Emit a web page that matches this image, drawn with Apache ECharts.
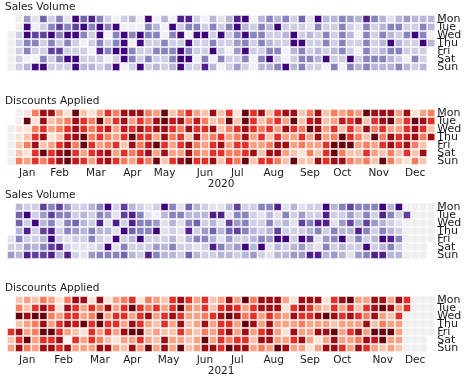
<!DOCTYPE html>
<html>
<head>
<meta charset="utf-8">
<script src="https://cdn.jsdelivr.net/npm/echarts@6/dist/echarts.min.js"></script>
<style>
  html, body { margin: 0; padding: 0; background: #fff; }
  #chart { width: 474px; height: 377px; }
</style>
</head>
<body>
<div id="chart"></div>
<script>
// one string per weekday (Mon..Sun), one char per week column; '.' = no data
const years = ['2020', '2021']
const dayNames = ['Sun', 'Mon', 'Tue', 'Wed', 'Thu', 'Fri', 'Sat']
const titles = ['Sales Volume', 'Discounts Applied', 'Sales Volume', 'Discounts Applied']

const sales2020 = [
  '..416251968520230903088203138903535261933543853134333',
  '..902575795959000530925525259325392221522521523552253',
  '.2977959952905959550590992925955223923252530525325950',
  '.2552525202525909225229225224525322992252522523932293',
  '.252277222085995225559522920492255035232352052355222.',
  '.200525992220295252259905052250592025539229255532052.',
  '.239922293323902923239228302420335935220505353335323.'
]
const discounts2020 = [
  '..148831921364888439246328261968268824824343988838134',
  '..918234864936836489784742392962463927823768268936986',
  '.1146346864673768688648668246864638649836263846336862',
  '.1268127894643696638462834634836263363834964294867848',
  '.248236849634628479636843683663348834336999343686842.',
  '.216968963678364683833843664468288321426942263242628.',
  '.436468976378643649268966826492664292286884342942142.'
]
const sales2021 = [
  '.322757422359273212951632113722558131229357555939....',
  '.6924755232541785103553338815521315242282242528527...',
  '.629351563281828554131562317452252317588147374321....',
  '.382782543533196559121824636753237222352533852532....',
  '1522392122521923922231355314223549929714592523985....',
  '2243578211129152224352212853493913234215232292352....',
  '4387783821455563285332632233234213344883431458833....'
]
const discounts2021 = [
  '.2324314881813461432686362383948883188816893388386...',
  '.4268618636483696463694362676368881686326362689836...',
  '.989943663493663683686334689846364386689868648326....',
  '.234836879696638632638238366398383334333233382433....',
  '6834996321636389923226324368383683183388936839993....',
  '2693668063642133632833239364662883368313833487933....',
  '3843886833388328393839238869883439833138863863232....'
]

const purples = ['#fcfbfd', '#efedf5', '#dadaeb', '#bcbddc', '#9e9ac8', '#807dba', '#6a51a3', '#54278f', '#3f007d']
const reds = ['#fff5f0', '#fee0d2', '#fcbba1', '#fc9272', '#fb6a4a', '#ef3b2c', '#cb181d', '#a50f15', '#67000d']

const toData = (rows, year) => {
  const jan1 = Date.UTC(+year, 0, 1)
  const dow = (new Date(jan1).getUTCDay() + 6) % 7
  const start = jan1 - dow * 86400000
  const out = []
  rows.forEach((row, r) => {
    for (let c = 0; c < row.length; c++) {
      const ch = row[c]
      if (ch === '.') continue
      const d = new Date(start + (c * 7 + r) * 86400000)
      if (d.getUTCFullYear() !== +year) continue
      out.push([d.toISOString().slice(0, 10), +ch])
    }
  })
  return out
}

const panels = [
  { rows: sales2020, year: '2020', top: 15, bottom: false },
  { rows: discounts2020, year: '2020', top: 109, bottom: true },
  { rows: sales2021, year: '2021', top: 203, bottom: false },
  { rows: discounts2021, year: '2021', top: 296, bottom: true }
]
const font = 'DejaVu Sans'
const txt = { fontFamily: font, fontSize: 10.5, color: '#1a1a1a' }

const chart = echarts.init(document.getElementById('chart'))
chart.setOption({
  animation: false,
  title: panels.map((p, i) => ({
    text: titles[i],
    left: 5,
    top: p.top - 13,
    padding: 0,
    textStyle: { ...txt, fontWeight: 'normal' }
  })),
  visualMap: [
    { show: false, min: -1, max: 9, seriesIndex: [0, 2], inRange: { color: purples } },
    { show: false, min: 0, max: 9, seriesIndex: [1, 3], inRange: { color: reds } }
  ],
  calendar: panels.map((p) => ({
    range: p.year,
    orient: 'horizontal',
    left: 7,
    top: p.top,
    cellSize: [8.08, 8],
    splitLine: { show: false },
    itemStyle: { color: '#efefef', borderColor: '#fff', borderWidth: 0.7 },
    dayLabel: { firstDay: 1, position: 'end', nameMap: dayNames, margin: 2, ...txt, fontSize: 11 },
    monthLabel: { show: p.bottom, position: 'end', align: 'center', margin: 3, ...txt },
    yearLabel: { show: p.bottom, position: 'bottom', margin: 14, ...txt, fontWeight: 'normal' }
  })),
  series: panels.map((p, i) => ({
    type: 'heatmap',
    coordinateSystem: 'calendar',
    calendarIndex: i,
    itemStyle: { borderColor: '#fff', borderWidth: 0.7 },
    data: toData(p.rows, p.year)
  }))
})
</script>
</body>
</html>
